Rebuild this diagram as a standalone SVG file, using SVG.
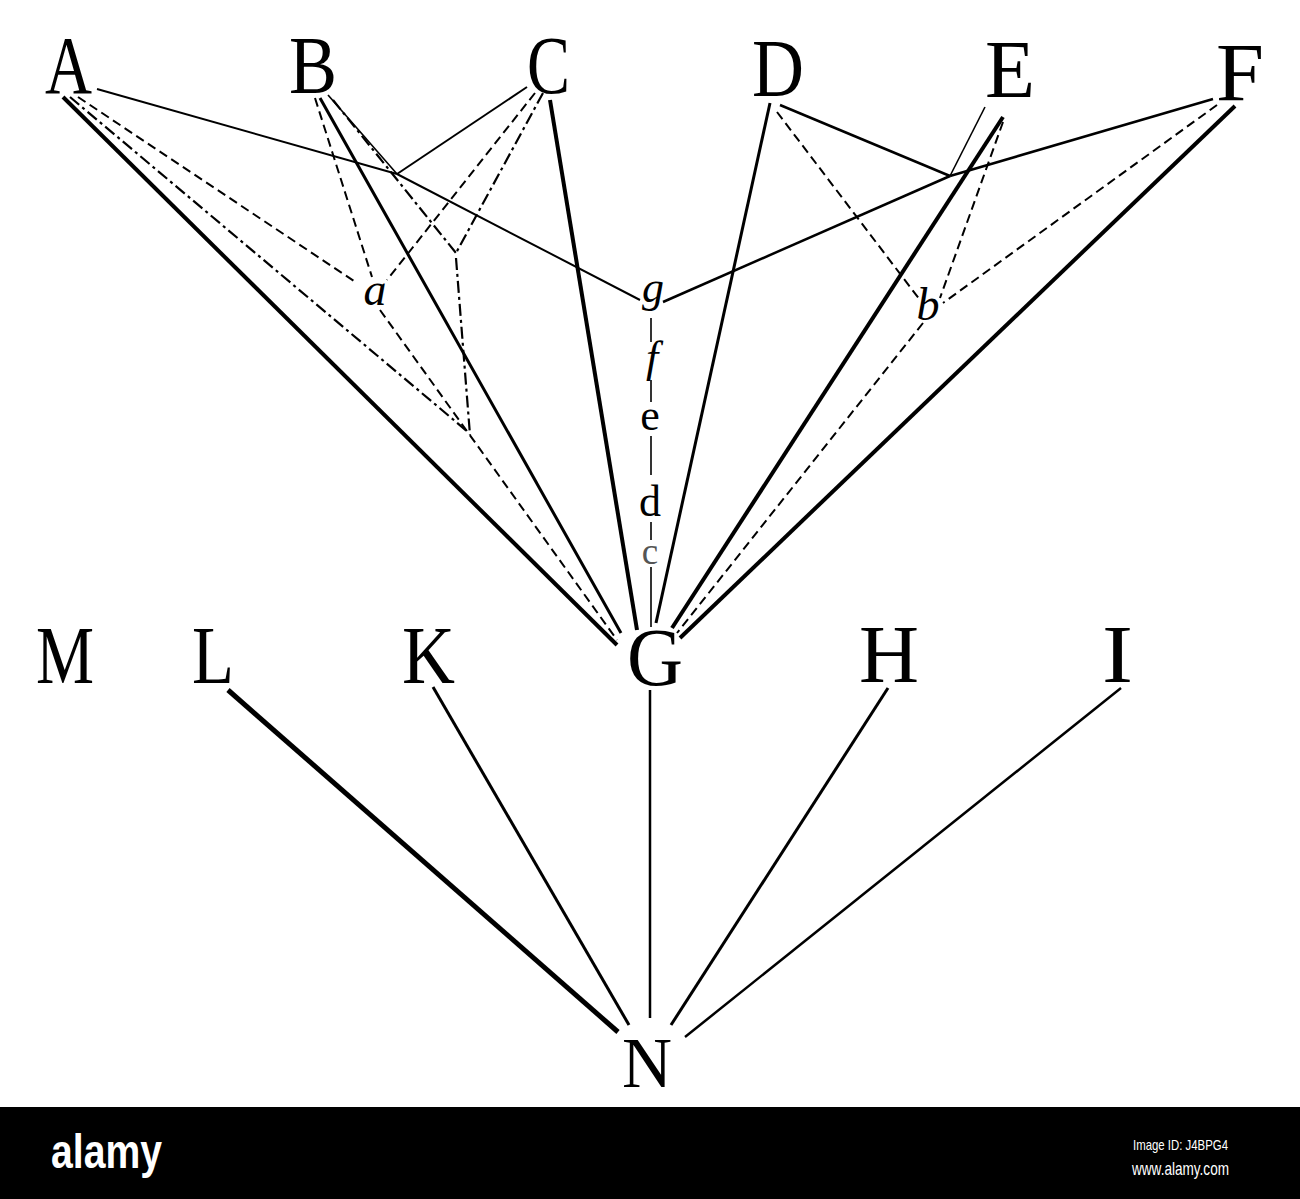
<svg xmlns="http://www.w3.org/2000/svg" width="1300" height="1199" viewBox="0 0 1300 1199">
<style>
.cap{font-family:"Liberation Serif","Times New Roman",serif;font-size:83px;fill:#000}
.sm{font-family:"Liberation Serif","Times New Roman",serif;font-size:44px;fill:#000;text-anchor:middle}
.it{font-style:italic}
.ln{stroke:#000;fill:none}
.thick{stroke-width:4}
.med{stroke-width:3}
.thin{stroke-width:2}
.hair{stroke-width:1.6}
.dash{stroke-width:2;stroke-dasharray:9 5}
.dd{stroke-width:2.2;stroke-dasharray:12 4 3 4}
.wm{font-family:"Liberation Sans",Arial,sans-serif;fill:#fff}
</style>
<rect x="0" y="0" width="1300" height="1199" fill="#fff"/>
<g id="connectors">
  <line class="ln thin" x1="97" y1="89" x2="397" y2="174"/>
  <line class="ln thin" x1="397" y1="174" x2="640" y2="300"/>
  <line class="ln thin" x1="527" y1="87" x2="397" y2="174"/>
  <line class="ln hair" x1="328" y1="95" x2="397" y2="174"/>
  <line class="ln thick" x1="63" y1="97" x2="617" y2="645"/>
  <line class="ln dd" x1="70" y1="97" x2="468" y2="432"/>
  <line class="ln dash" x1="78" y1="97" x2="357" y2="283"/>
  <line class="ln dash" x1="315" y1="98" x2="372" y2="277"/>
  <line class="ln dash" x1="535" y1="93" x2="387" y2="280"/>
  <line class="ln dash" x1="380" y1="310" x2="617" y2="640"/>
  <line class="ln med" x1="320" y1="98" x2="621" y2="633"/>
  <line class="ln dd" x1="333" y1="100" x2="456" y2="253"/>
  <line class="ln dd" x1="543" y1="93" x2="456" y2="253"/>
  <line class="ln dd" x1="456" y1="258" x2="470" y2="435"/>
  <line class="ln thick" x1="550" y1="100" x2="637" y2="630"/>
  <g class="ln hair">
    <line x1="651" y1="318" x2="651" y2="342"/>
    <line x1="651" y1="380" x2="651" y2="402"/>
    <line x1="651" y1="436" x2="651" y2="475"/>
    <line x1="651" y1="522" x2="651" y2="540"/>
    <line x1="651" y1="567" x2="651" y2="627"/>
  </g>
  <line class="ln" stroke-width="2.5" x1="663" y1="302" x2="950" y2="176"/>
  <line class="ln" stroke-width="2.5" x1="950" y1="176" x2="1213" y2="99"/>
  <line class="ln" stroke-width="2.5" x1="780" y1="105" x2="950" y2="176"/>
  <line class="ln hair" x1="985" y1="107" x2="950" y2="176"/>
  <line class="ln med" x1="770" y1="103" x2="656" y2="623"/>
  <line class="ln dash" x1="777" y1="112" x2="920" y2="300"/>
  <line class="ln thick" x1="1003" y1="117" x2="672" y2="628"/>
  <line class="ln dash" x1="1003" y1="122" x2="940" y2="298"/>
  <line class="ln dash" x1="1217" y1="105" x2="943" y2="303"/>
  <line class="ln dash" x1="923" y1="323" x2="677" y2="633"/>
  <line class="ln thick" x1="1235" y1="106" x2="680" y2="638"/>
  <line class="ln" stroke-width="5" x1="228" y1="690" x2="618" y2="1032"/>
  <line class="ln med" x1="433" y1="687" x2="629" y2="1025"/>
  <line class="ln" stroke-width="2.5" x1="650" y1="690" x2="650" y2="1018"/>
  <line class="ln med" x1="888" y1="688" x2="671" y2="1025"/>
  <line class="ln" stroke-width="2.5" x1="1121" y1="688" x2="685" y2="1037"/>
</g>
<g id="node-A"><text class="cap" x="45" y="93" textLength="47" lengthAdjust="spacingAndGlyphs">A</text></g>
<g id="node-B"><text class="cap" x="289" y="93" textLength="48" lengthAdjust="spacingAndGlyphs">B</text></g>
<g id="node-C"><text class="cap" x="527" y="93" textLength="43" lengthAdjust="spacingAndGlyphs">C</text></g>
<g id="node-D"><text class="cap" x="752" y="96" textLength="52" lengthAdjust="spacingAndGlyphs">D</text></g>
<g id="node-E"><text class="cap" x="985" y="97" textLength="50" lengthAdjust="spacingAndGlyphs">E</text></g>
<g id="node-F"><text class="cap" x="1216" y="100" textLength="48" lengthAdjust="spacingAndGlyphs">F</text></g>
<g id="node-M"><text class="cap" x="36" y="683" textLength="58" lengthAdjust="spacingAndGlyphs">M</text></g>
<g id="node-L"><text class="cap" x="192" y="683" textLength="42" lengthAdjust="spacingAndGlyphs">L</text></g>
<g id="node-K"><text class="cap" x="402" y="683" textLength="53" lengthAdjust="spacingAndGlyphs">K</text></g>
<g id="node-G"><text class="cap" x="627" y="685" textLength="56" lengthAdjust="spacingAndGlyphs">G</text></g>
<g id="node-H"><text class="cap" x="859" y="682" textLength="60" lengthAdjust="spacingAndGlyphs">H</text></g>
<g id="node-I"><text class="cap" x="1102" y="682" textLength="31" lengthAdjust="spacingAndGlyphs">I</text></g>
<g id="node-N"><text class="cap" x="622" y="1087" style="font-size:72px" textLength="50" lengthAdjust="spacingAndGlyphs">N</text></g>
<g id="node-a"><text class="sm it" x="375" y="305" style="font-size:46px">a</text></g>
<g id="node-b"><text class="sm it" x="928" y="320" style="font-size:46px">b</text></g>
<g id="node-g"><text class="sm it" x="653" y="302">g</text></g>
<g id="node-f"><text class="sm it" x="652" y="372">f</text></g>
<g id="node-e"><text class="sm" x="650" y="430">e</text></g>
<g id="node-d"><text class="sm" x="650" y="516">d</text></g>
<g id="node-c"><text class="sm" x="650" y="564" style="fill:#555;font-size:37px">c</text></g>
<g id="watermark">
  <rect x="0" y="1107" width="1300" height="92" fill="#000"/>
  <text class="wm" x="51" y="1168" style="font-size:48px;font-weight:bold" textLength="111" lengthAdjust="spacingAndGlyphs">alamy</text>
  <text class="wm" x="1133" y="1150" style="font-size:15px" textLength="95" lengthAdjust="spacingAndGlyphs">Image ID: J4BPG4</text>
  <text class="wm" x="1132" y="1175" style="font-size:19px" textLength="97" lengthAdjust="spacingAndGlyphs">www.alamy.com</text>
</g>
</svg>
